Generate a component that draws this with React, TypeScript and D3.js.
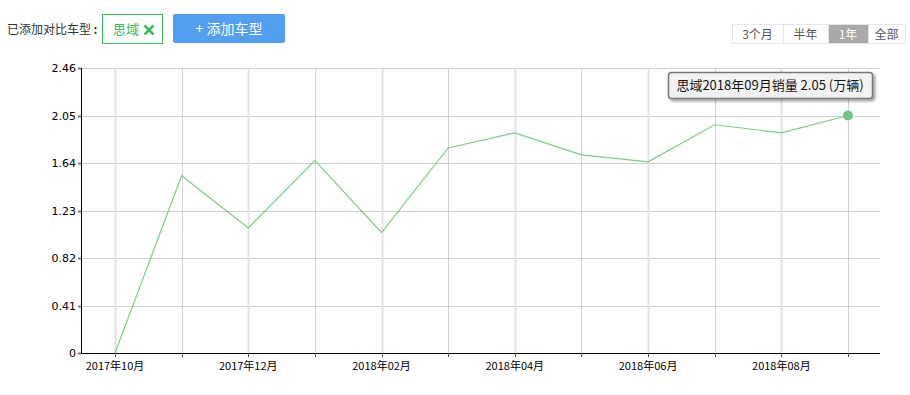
import React from "react";
import * as d3 from "d3";

const months = ["2017-10","2017-11","2017-12","2018-01","2018-02","2018-03","2018-04","2018-05","2018-06","2018-07","2018-08","2018-09"];
const sales = [0, 1.53, 1.08, 1.66, 1.04, 1.77, 1.90, 1.71, 1.65, 1.97, 1.90, 2.05];
const yTicks = [0, 0.41, 0.82, 1.23, 1.64, 2.05, 2.46];
const tabs = ["3个月", "半年", "1年", "全部"];
const carName = "思域";

const monthLabel = (m: string) => {
  const [y, mm] = m.split("-");
  return `${y}年${mm}月`;
};

export default function App() {
  const W = 910, H = 395;
  const left = 81, right = 880, top = 68, bottom = 353;
  const x = d3.scalePoint<string>().domain(months).range([115, 848]);
  const y = d3.scaleLinear().domain([0, 2.46]).range([bottom, top]);
  const line = d3.line<number>().x((_, i) => x(months[i])!).y(d => y(d));
  const last = months.length - 1;
  const font = "'Noto Sans CJK SC', 'DejaVu Sans', sans-serif";
  const tabX = [732, 783, 828, 868, 905];

  return (
    <svg width={W} height={H} style={{ position: "absolute", left: 0, top: 0, background: "#fff" }} fontFamily={font}>
      {/* top controls */}
      <text x={7} y={34} fontSize={12} fill="#333">已添加对比车型</text>
      <text x={93.5} y={34} fontSize={12} fontWeight="bold" fill="#333">:</text>
      <rect x={102.5} y={14.5} width={60} height={29} fill="#fff" stroke="#3cb95a" />
      <text x={113} y={34} fontSize={13} fill="#3cb95a">{carName}</text>
      <path d="M144.5,25.5 L153.5,34.5 M153.5,25.5 L144.5,34.5" stroke="#3cb95a" strokeWidth={2.5} />
      <rect x={173} y={14} width={112} height={29} rx={2} fill="#529ef0" />
      <text x={229} y={34} fontSize={14} fill="#fff" textAnchor="middle">+ 添加车型</text>

      {tabs.map((t, i) => {
        const sel = t === "1年";
        return (
          <g key={t}>
            <rect x={tabX[i] + 0.5} y={24.5} width={tabX[i + 1] - tabX[i]} height={19} fill={sel ? "#a9a9a9" : "#fff"} stroke="#e6e6e6" />
            <text x={(tabX[i] + tabX[i + 1]) / 2} y={38.5} fontSize={12} textAnchor="middle" fill={sel ? "#fff" : "#555"}>{t}</text>
          </g>
        );
      })}

      {/* horizontal grid */}
      {yTicks.map(t => (
        <line key={"h" + t} x1={left} x2={right} y1={Math.round(y(t)) + 0.5} y2={Math.round(y(t)) + 0.5} stroke="#cfcfcf" />
      ))}
      {/* vertical grid */}
      {months.map((m, i) => (
        <line key={"v" + m} x1={Math.round(x(m)!) + 0.5} x2={Math.round(x(m)!) + 0.5} y1={top} y2={bottom} stroke={i % 2 === 0 ? "#e3e3e3" : "#d2d2d2"} strokeWidth={i % 2 === 0 ? 2 : 1} />
      ))}

      {/* axes */}
      <line x1={left + 0.5} x2={left + 0.5} y1={top} y2={bottom} stroke="#000" />
      <line x1={left} x2={right} y1={bottom + 0.5} y2={bottom + 0.5} stroke="#000" />
      {yTicks.map(t => (
        <g key={"yt" + t}>
          <line x1={left - 3} x2={left} y1={Math.round(y(t)) + 0.5} y2={Math.round(y(t)) + 0.5} stroke="#777" strokeWidth={2} />
          <text x={left - 5} y={y(t) + 4} fontSize={11} textAnchor="end" fill="#000" fontFamily="'DejaVu Sans', sans-serif">{t === 0 ? "0" : t.toFixed(2)}</text>
        </g>
      ))}
      {months.map((m, i) => (
        <g key={"xt" + m}>
          <line x1={Math.round(x(m)!) + 0.5} x2={Math.round(x(m)!) + 0.5} y1={bottom} y2={bottom + 4} stroke="#555" />
          {i % 2 === 0 && (
            <text x={x(m)!} y={bottom + 17} fontSize={11} textAnchor="middle" fill="#000">{monthLabel(m)}</text>
          )}
        </g>
      ))}

      {/* series */}
      <path d={line(sales)!} fill="none" stroke="#78ce8a" strokeWidth={1.2} />
      <circle cx={x(months[last])!} cy={y(sales[last])} r={5} fill="#6cc77f" />

      {/* tooltip */}
      <defs>
        <filter id="sh" x="-10%" y="-30%" width="130%" height="180%">
          <feDropShadow dx={2} dy={2} stdDeviation={1.5} floodColor="#000" floodOpacity={0.4} />
        </filter>
      </defs>
      <rect x={668.5} y={72.5} width={204} height={26} rx={3} fill="#f2f2f2" stroke="#777" strokeWidth={1.5} filter="url(#sh)" />
      <text x={770} y={90} fontSize={13} textAnchor="middle" fill="#111">{`${carName}${monthLabel(months[last])}销量 ${sales[last].toFixed(2)} (万辆)`}</text>
    </svg>
  );
}
